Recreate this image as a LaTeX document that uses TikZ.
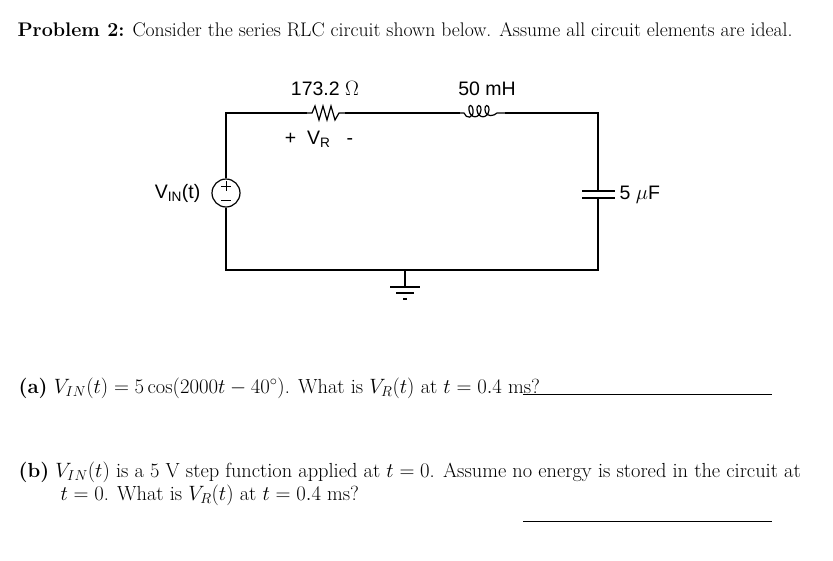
\documentclass[tikz,border=0pt]{standalone}
\usepackage{fontspec}
\newfontfamily\arial{Liberation Sans}
\begin{document}
\begin{tikzpicture}[x=1pt,y=-1pt,line width=1.2pt,
  txt/.style={anchor=west,inner sep=0pt,font=\fontsize{20.4}{22}\selectfont},
  ckt/.style={inner sep=0pt,font=\arial\fontsize{19.5}{22}\selectfont}]
\useasboundingbox (0,0) rectangle (833,560);
\node[txt,font=\fontsize{19.7}{22}\selectfont] (title) at (17,30) {\textbf{Problem 2:} Consider the series RLC circuit shown below. Assume all circuit elements are ideal.};
% circuit
\coordinate (tl) at (226,113); \coordinate (tr) at (598,113);
\coordinate (bl) at (226,270); \coordinate (br) at (598,270);
\node[draw,circle,minimum size=28pt,inner sep=0pt] (src) at (226,193) {};
\draw[line width=1pt] (221,186)--(231,186) (226,181)--(226,191);
\draw[line width=1pt] (221,200)--(231,200);
\coordinate (r1) at (307,113); \coordinate (r2) at (345,113);
\coordinate (l1) at (460,113); \coordinate (l2) at (505,113);
\coordinate (c1) at (598,191); \coordinate (c2) at (598,198);
\coordinate (g) at (405,270);
\draw (src.north)--(tl)--(r1);
\draw (r1)--(312,113)--(315,106)--(319,120)--(323,106)--(327,120)--(331,106)--(335,120)--(339,113)--(r2);
\draw (r2)--(l1);
\draw (l1)--(464,113) .. controls (466,119) and (474,119) .. (473,110) .. controls (472,103) and (468,105) .. (469,110)
 .. controls (470,119) and (480,119) .. (481,110) .. controls (481,103) and (476,105) .. (477,110)
 .. controls (478,119) and (488,119) .. (489,110) .. controls (489,103) and (484,105) .. (485,110)
 .. controls (486,118) and (494,116) .. (497,113) -- (l2);
\draw (l2)--(tr)--(c1);
\draw (582,191)--(615,191); \draw (582,198)--(615,198);
\draw (c2)--(br)--(bl)--(src.south);
\draw (g)--(405,287);
\draw (390,287)--(420,287); \draw (396,293)--(414,293); \draw (403,299)--(407,299);
\node[ckt] (lr) at (325,89) {173.2 $\Omega$};
\node[ckt] (ll) at (487,89) {50 mH};
\node[ckt] (vr) at (319,139) {+\ \ V\textsubscript{R}\ \ \ -};
\node[ckt,anchor=east] (vin) at (201,193) {V\textsubscript{IN}(t)};
\node[ckt,anchor=west] (cl) at (619,195) {5 $\mu$F};
% questions
\node[txt] (qa) at (18,388) {\textbf{(a)} $V_{IN}(t)=5\cos(2000t-40^\circ)$. What is $V_R(t)$ at $t=0.4$ ms?};
\coordinate (ua1) at (523,394); \coordinate (ua2) at (772,394);
\draw[line width=0.8pt] (ua1)--(ua2);
\node[txt] (qb) at (18,472) {\textbf{(b)} $V_{IN}(t)$ is a 5 V step function applied at $t=0$. Assume no energy is stored in the circuit at};
\node[txt] (qb2) at (60,495) {$t=0$. What is $V_R(t)$ at $t=0.4$ ms?};
\coordinate (ub1) at (523,521); \coordinate (ub2) at (772,521);
\draw[line width=0.8pt] (ub1)--(ub2);
\end{tikzpicture}
\end{document}
